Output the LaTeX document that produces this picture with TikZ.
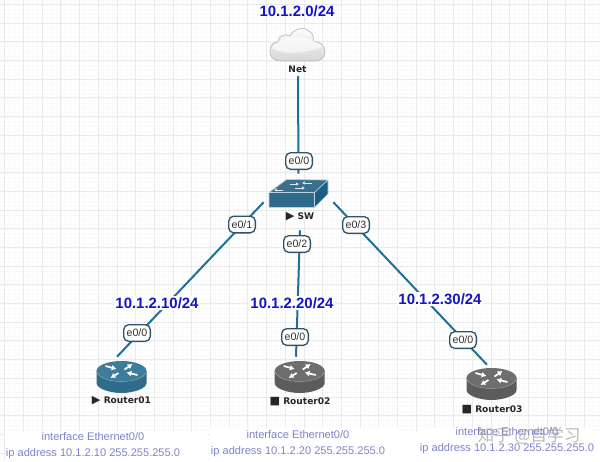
\documentclass[tikz,border=0pt]{standalone}
\usepackage{fontspec}
\setmainfont{Liberation Sans}
\newfontfamily\devfont{DejaVu Sans}
\newfontfamily\cjkfont{Noto Sans CJK SC}
\usetikzlibrary{arrows.meta,positioning}
\definecolor{linkblue}{HTML}{1F6F96}
\definecolor{tagedge}{HTML}{2F5468}
\definecolor{subnetblue}{HTML}{1414C4}
\definecolor{cfgtext}{HTML}{7F83CC}
\definecolor{blueside}{HTML}{2F6C8C}
\definecolor{bluetop}{HTML}{3E7C9C}
\definecolor{greyside}{HTML}{5C5C5C}
\definecolor{greytop}{HTML}{6E6E6E}
\definecolor{gridmajor}{HTML}{EAEAEA}
\definecolor{gridminor}{HTML}{FAFAFA}
\newcommand{\bigmark}[1]{{\fontsize{8.4pt}{8pt}\selectfont #1}}
\tikzset{
  link/.style={draw=linkblue,line width=1.5pt},
  tag/.style={draw=tagedge,line width=1pt,fill=white,rounded corners=3.8pt,minimum width=20pt,minimum height=12.5pt,inner sep=0pt,font=\fontsize{8pt}{9pt}\selectfont,text=black!80},
  subnet/.style={fill=white,inner sep=1pt,text=subnetblue,font=\fontsize{11.2pt}{13pt}\selectfont\bfseries},
  devlabel/.style={inner sep=0pt,text=black!85,font=\fontsize{6.8pt}{8pt}\devfont\bfseries},
  cfg/.style={fill=white,inner sep=0pt,text=cfgtext,align=center,font=\fontsize{8.3pt}{12pt}\selectfont},
  anchorbox/.style={inner sep=0pt,minimum width=36pt,minimum height=24pt},
  rarrow/.style={white,line width=1.3pt,-{Latex[length=3.6pt,width=4.4pt]}},
  swarrow/.style={white!85!linkblue,line width=0.7pt,-{Latex[length=2.2pt,width=2.6pt]}}
}
\newcommand{\routerdraw}[5]{%
  \begin{scope}[shift={(#1,#2)}]
    \fill[#3] (-25,0) -- (-25,12) .. controls (-25,17.5) and (-12,22) .. (0,22) .. controls (12,22) and (25,17.5) .. (25,12) -- (25,0) -- cycle;
    \fill[#4] (0,0) ellipse [x radius=25, y radius=10];
    \draw[#5,line width=0.4pt] (-25,0.5) .. controls (-23,7) and (-12,10.5) .. (0,10.5) .. controls (12,10.5) and (23,7) .. (25,0.5);
    \draw[rarrow] (-16,-5) -- (-5,-2);
    \draw[rarrow] (3,-1.5) -- (11,-7);
    \draw[rarrow] (-3,2) -- (-11,7);
    \draw[rarrow] (16,4) -- (5,1.5);
  \end{scope}}
\begin{document}
\begin{tikzpicture}[x=0.75pt,y=-0.75pt]
\useasboundingbox (0,0) rectangle (600,461);
\fill[white] (0,0) rectangle (600,461);
% background grid
\foreach \k in {0,...,128} {
  \draw[gridminor,line width=0.4pt] ({\k*4.675},0) -- ({\k*4.675},461);
}
\foreach \k in {0,...,99} {
  \draw[gridminor,line width=0.4pt] (0,{\k*4.675}) -- (600,{\k*4.675});
}
\foreach \k in {0,...,32} {
  \draw[gridmajor,line width=0.5pt] ({4.7+\k*18.7},0) -- ({4.7+\k*18.7},461);
}
\foreach \k in {0,...,24} {
  \draw[gridmajor,line width=0.5pt] (0,{4.2+\k*18.7}) -- (600,{4.2+\k*18.7});
}
% bottom panels
\fill[white] (5,431) rectangle (208,461);
\fill[white] (210,428) rectangle (400,461);
\fill[white] (385,431) rectangle (600,461);
% cloud
\draw[draw=black!28,line width=0.5pt,top color=white,bottom color=black!16]
  (281,61) .. controls (273,61) and (269,56) .. (270,50)
  .. controls (270,45) and (274,42) .. (278,42)
  .. controls (278,36) and (285,33) .. (290,36)
  .. controls (293,29) and (304,26) .. (309,31)
  .. controls (313,33) and (314,37) .. (313,41)
  .. controls (320,41) and (325,46) .. (325,52)
  .. controls (325,58) and (320,61) .. (315,61) -- cycle;
\fill[white,opacity=0.6] (272,48) .. controls (282,55) and (302,54) .. (323,47)
  .. controls (316,40) and (300,34) .. (288,38) .. controls (280,41) and (274,44) .. cycle;
% switch
\fill[blueside] (269,192.5) -- (314.5,192.5) -- (314.5,207.5) -- (269,207.5) -- cycle;
\fill[linkblue!85!black] (314.5,192.5) -- (328,180) -- (328,194) -- (314.5,207.5) -- cycle;
\fill[bluetop!90!black] (269,192.5) -- (286.5,179.5) -- (328,180) -- (314.5,192.5) -- cycle;
\draw[white!70!linkblue,line width=0.5pt,line join=round] (269,207.5) -- (269,192.5) -- (286.5,179.5) -- (328,180) -- (328,194) -- (314.5,207.5) -- cycle (269,192.5) -- (314.5,192.5) -- (314.5,207.5) (314.5,192.5) -- (328,180);
\draw[swarrow] (290,184) -- (299,184);
\draw[swarrow] (312,183) -- (302,183);
\draw[swarrow] (283,190) -- (274,190);
\draw[swarrow] (295,188) -- (305,188);
% routers
\routerdraw{121.5}{371}{blueside}{bluetop}{blueside!60!white}
\routerdraw{299.7}{371}{greyside}{greytop}{greyside!60!white}
\routerdraw{491.5}{378}{greyside}{greytop}{greyside!60!white}
% invisible device footprints, labels
\node[anchorbox,minimum width=42pt,minimum height=41pt] (net) at (298,48.5) {};
\node[anchorbox,minimum width=52pt,minimum height=21pt] (sw) at (298.5,188) {};
\node[devlabel,minimum height=19.5pt] (swlab) at (300,217) {\bigmark{▶} SW};
\node[anchorbox] (r1) at (117,373) {};
\node[anchorbox] (r2) at (296,373) {};
\node[anchorbox] (r3) at (487,381) {};
% links
\draw[link] (net.south) -- (sw.north);
\draw[link] (sw.south west) -- (r1.north);
\draw[link] (swlab.south) -- (r2.north);
\draw[link] (sw.south east) -- (r3.north);
% device labels
\node[devlabel] (netlab) at (297.5,69) {Net};
\node[devlabel] (r1lab) at (121.5,401) {\bigmark{▶} Router01};
\node[devlabel] (r2lab) at (300,401.5) {\bigmark{■} Router02};
\node[devlabel] (r3lab) at (492,410) {\bigmark{■} Router03};
% interface tags
\node[tag] (t0) at (299,161) {e0/0};
\node[tag] (t1) at (242,224.5) {e0/1};
\node[tag] (t2) at (297,244) {e0/2};
\node[tag] (t3) at (356,225) {e0/3};
\node[tag] (t4) at (137,333) {e0/0};
\node[tag] (t5) at (295,337) {e0/0};
\node[tag] (t6) at (463,340) {e0/0};
% subnets
\node[subnet,fill=none] (s0) at (297,11) {10.1.2.0/24};
\node[subnet] (s1) at (157,303) {10.1.2.10/24};
\node[subnet] (s2) at (292,303) {10.1.2.20/24};
\node[subnet] (s3) at (440,299) {10.1.2.30/24};
% configuration text
\node[cfg] (c1) at (93,446) {interface Ethernet0/0\\ip address 10.1.2.10 255.255.255.0};
\node[cfg] (c2) at (298,444) {interface Ethernet0/0\\ip address 10.1.2.20 255.255.255.0};
\node[cfg] (c3) at (507,441) {interface Ethernet0/0\\ip address 10.1.2.30 255.255.255.0};
% watermark
\node[inner sep=0pt,text=black!45,opacity=0.6,font=\fontsize{12.5pt}{14pt}\cjkfont] (wm) at (529,436) {知乎 @自学习};
\end{tikzpicture}
\end{document}
